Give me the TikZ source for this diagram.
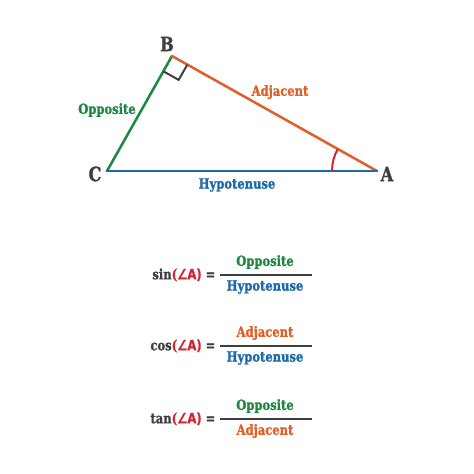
\documentclass[tikz,border=0pt]{standalone}
\usepackage{fontspec}
\setmainfont{DejaVu Serif}
\newfontfamily\slabfont[FakeStretch=0.82, FakeBold=1.2]{DejaVu Serif}
\newfontfamily\symfont[FakeStretch=0.82, FakeBold=1.2]{DejaVu Sans}
\usepackage{xcolor}
\usetikzlibrary{positioning, calc}
\definecolor{oppgreen}{RGB}{28, 136, 66}
\definecolor{adjorange}{RGB}{224, 96, 42}
\definecolor{hypblue}{RGB}{28, 104, 168}
\definecolor{angred}{RGB}{212, 36, 48}
\definecolor{inkgray}{RGB}{62, 62, 62}

\begin{document}
\begin{tikzpicture}[
    x=0.025cm, y=0.025cm,
    side/.style={line width=1.8pt, line cap=round},
    vlabel/.style={font=\slabfont\bfseries\fontsize{14}{14}\selectfont, text=inkgray},
    term/.style={font=\slabfont\bfseries\fontsize{10}{10}\selectfont, inner sep=1pt},
    fn/.style={font=\slabfont\bfseries\fontsize{10}{10}\selectfont, text=inkgray, inner sep=1pt},
    bar/.style={line width=1.4pt, inkgray},
]
\useasboundingbox (0,0) rectangle (474,474);

% Triangle
\coordinate (B) at (172,418);
\coordinate (C) at (107,303);
\coordinate (A) at (377,303);

\draw[side, oppgreen] (C) -- (B);
\draw[side, adjorange] (B) -- (A);
\draw[side, hypblue] (C) -- (A);

% right angle at B, angle mark at A
\coordinate (rc) at ($(B)!12.5pt!(C)$);
\coordinate (ra) at ($(B)!12.5pt!(A)$);
\draw[line width=1.4pt, inkgray] (rc) -- ($(rc)+(ra)-(B)$) -- (ra);
\draw[line width=1.4pt, angred] ($(A)+(180:45)$) arc[start angle=180, end angle=150.7, radius=45];

\node[vlabel] (lB) at (167,430) {B};
\node[vlabel] (lC) at (95,300) {C};
\node[vlabel] (lA) at (387,300) {A};

\node[term, text=oppgreen] (opp) at (107,364) {Opposite};
\node[term, text=adjorange] (adj) at (280,382) {Adjacent};
\node[term, text=hypblue] (hyp) at (237,289) {Hypotenuse};

% sin
\coordinate (sinL) at (220,199);
\coordinate (sinR) at (312,199);
\draw[bar] (sinL) -- (sinR);
\node[fn, anchor=east] (sinfn) at ($(sinL)+(-3,0)$) {sin\textcolor{angred}{(\symfont∠A)} =};
\node[term, text=oppgreen] (sinnum) at (265,212) {Opposite};
\node[term, text=hypblue] (sinden) at (265,187) {Hypotenuse};

% cos
\coordinate (cosL) at (220,128);
\coordinate (cosR) at (312,128);
\draw[bar] (cosL) -- (cosR);
\node[fn, anchor=east] (cosfn) at ($(cosL)+(-3,0)$) {cos\textcolor{angred}{(\symfont∠A)} =};
\node[term, text=adjorange] (cosnum) at (265,141) {Adjacent};
\node[term, text=hypblue] (cosden) at (265,116) {Hypotenuse};

% tan
\coordinate (tanL) at (220,55);
\coordinate (tanR) at (312,55);
\draw[bar] (tanL) -- (tanR);
\node[fn, anchor=east] (tanfn) at ($(tanL)+(-3,0)$) {tan\textcolor{angred}{(\symfont∠A)} =};
\node[term, text=oppgreen] (tannum) at (265,68) {Opposite};
\node[term, text=adjorange] (tanden) at (265,43) {Adjacent};

\end{tikzpicture}
\end{document}
